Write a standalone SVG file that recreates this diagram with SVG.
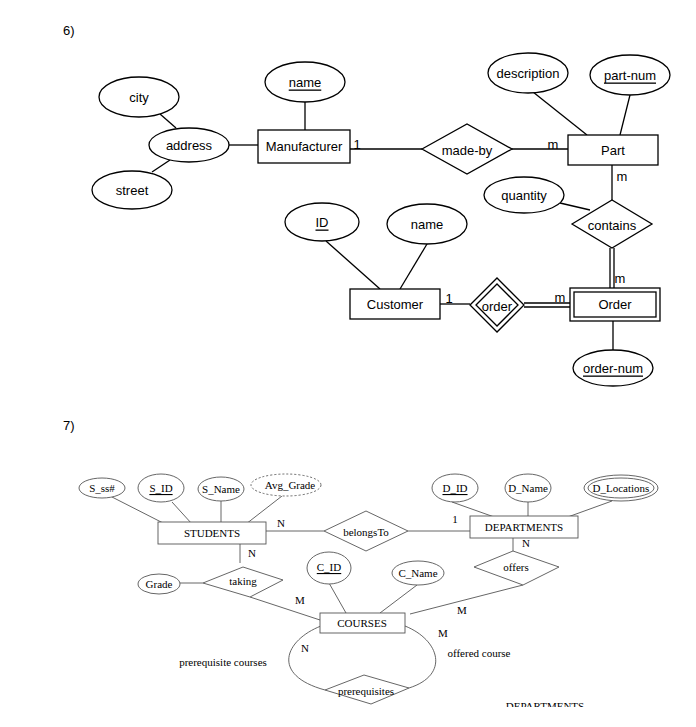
<svg xmlns="http://www.w3.org/2000/svg" width="696" height="727" viewBox="0 0 696 727">
<style>
.s{fill:#fff;stroke:#000;stroke-width:1.3}
.l{fill:none;stroke:#000;stroke-width:1.3}
.a{font-family:"Liberation Sans",Arial,sans-serif;font-size:13px;text-anchor:middle;dominant-baseline:central}
.t{font-family:"Liberation Serif","Times New Roman",serif;font-size:11px;text-anchor:middle;dominant-baseline:central}
.b{fill:#fff;stroke:#555;stroke-width:0.9}
.k{fill:none;stroke:#555;stroke-width:0.9}
</style>
<rect width="696" height="727" fill="#fff"/>
<text x="63" y="30" class="a" style="text-anchor:start">6)</text>
<text x="63" y="425" class="a" style="text-anchor:start">7)</text>
<g id="edges">
<line class="l" x1="160" y1="114" x2="176" y2="128"/>
<line class="l" x1="170" y1="160" x2="152" y2="172"/>
<line class="l" x1="229" y1="145" x2="258" y2="145"/>
<line class="l" x1="305" y1="102" x2="305" y2="130"/>
<line class="l" x1="350" y1="149" x2="422" y2="149"/>
<line class="l" x1="512" y1="149" x2="568" y2="149"/>
<line class="l" x1="533" y1="92" x2="587" y2="135"/>
<line class="l" x1="630" y1="95" x2="620" y2="135"/>
<line class="l" x1="612" y1="165" x2="612" y2="200"/>
<line class="l" x1="560" y1="203" x2="590" y2="210"/>
<line class="l" x1="610" y1="248" x2="610" y2="288"/>
<line class="l" x1="614" y1="248" x2="614" y2="288"/>
<line class="l" x1="326" y1="241" x2="380" y2="289"/>
<line class="l" x1="427" y1="244" x2="400" y2="289"/>
<line class="l" x1="440" y1="304" x2="470" y2="304"/>
<line class="l" x1="524" y1="303" x2="570" y2="303"/>
<line class="l" x1="524" y1="307" x2="570" y2="307"/>
<line class="l" x1="613" y1="320" x2="613" y2="350"/>
<line class="k" x1="112" y1="497" x2="165" y2="524"/>
<line class="k" x1="172" y1="502" x2="192" y2="524"/>
<line class="k" x1="221" y1="500" x2="221" y2="524"/>
<line class="k" x1="282" y1="496" x2="246" y2="524"/>
<line class="k" x1="266" y1="531" x2="324" y2="531"/>
<line class="k" x1="408" y1="531" x2="470" y2="531"/>
<line class="k" x1="452" y1="502" x2="497" y2="518"/>
<line class="k" x1="528" y1="502" x2="528" y2="518"/>
<line class="k" x1="612" y1="501" x2="565" y2="518"/>
<line class="k" x1="240" y1="544" x2="240" y2="563"/>
<line class="k" x1="180" y1="583" x2="203" y2="583"/>
<line class="k" x1="250" y1="597" x2="320" y2="620"/>
<line class="k" x1="329" y1="583" x2="346" y2="613"/>
<line class="k" x1="417" y1="585" x2="380" y2="613"/>
<line class="k" x1="513" y1="538" x2="513" y2="551"/>
<line class="k" x1="523" y1="585" x2="410" y2="614"/>
<path class="k" d="M321,626 C285,640 270,675 325,690"/>
<path class="k" d="M405,626 C440,640 450,675 409,688"/>
</g>
<g id="city"><ellipse class="s" cx="139" cy="97" rx="40" ry="20"/><text x="139" y="97" class="a">city</text></g>
<g id="address"><ellipse class="s" cx="189" cy="145" rx="40" ry="17"/><text x="189" y="145" class="a">address</text></g>
<g id="street"><ellipse class="s" cx="132" cy="190" rx="40" ry="19"/><text x="132" y="190" class="a">street</text></g>
<g id="mname"><ellipse class="s" cx="305" cy="82" rx="40" ry="20"/><text x="305" y="82" class="a" text-decoration="underline">name</text></g>
<g id="manufacturer"><rect class="s" x="258" y="130" width="92" height="33"/><text x="304" y="146" class="a">Manufacturer</text></g>
<g id="madeby"><polygon class="s" points="422,149 467,124 512,149 467,174"/><text x="467" y="150" class="a">made-by</text></g>
<g id="part"><rect class="s" x="568" y="135" width="90" height="30"/><text x="613" y="150" class="a">Part</text></g>
<g id="description"><ellipse class="s" cx="528" cy="73" rx="40" ry="20"/><text x="528" y="73" class="a">description</text></g>
<g id="partnum"><ellipse class="s" cx="630" cy="75" rx="40" ry="20"/><text x="630" y="75" class="a" text-decoration="underline">part-num</text></g>
<g id="quantity"><ellipse class="s" cx="524" cy="195" rx="40" ry="18"/><text x="524" y="195" class="a">quantity</text></g>
<g id="contains"><polygon class="s" points="572,224 612,200 652,224 612,248"/><text x="612" y="225" class="a">contains</text></g>
<g id="cid"><ellipse class="s" cx="322" cy="222" rx="37" ry="19"/><text x="322" y="222" class="a" text-decoration="underline">ID</text></g>
<g id="cname"><ellipse class="s" cx="427" cy="224" rx="40" ry="20"/><text x="427" y="224" class="a">name</text></g>
<g id="customer"><rect class="s" x="350" y="289" width="90" height="30"/><text x="395" y="304" class="a">Customer</text></g>
<g id="order"><polygon class="s" points="470,305 497,278 524,305 497,332"/><polygon class="s" points="476,305 497,284 518,305 497,326"/><text x="497" y="306" class="a">order</text></g>
<g id="Order"><rect class="s" x="570" y="288" width="90" height="33"/><rect class="s" x="574" y="292" width="82" height="25"/><text x="615" y="304" class="a">Order</text></g>
<g id="ordernum"><ellipse class="s" cx="613" cy="368" rx="40" ry="18"/><text x="613" y="368" class="a" text-decoration="underline">order-num</text></g>
<g id="labels6">
<text x="357" y="144" class="a">1</text><text x="553" y="144" class="a">m</text>
<text x="622" y="176" class="a">m</text><text x="620" y="278" class="a">m</text>
<text x="449" y="298" class="a">1</text><text x="560" y="297" class="a">m</text>
</g>
<g id="sss"><ellipse class="b" cx="102" cy="488" rx="23" ry="10"/><text x="102" y="488" class="t">S_ss#</text></g>
<g id="sid"><ellipse class="b" cx="161" cy="488" rx="23" ry="14"/><text x="161" y="488" class="t" text-decoration="underline">S_ID</text></g>
<g id="sname"><ellipse class="b" cx="221" cy="489" rx="23" ry="12"/><text x="221" y="489" class="t">S_Name</text></g>
<g id="avg"><ellipse class="b" cx="286" cy="485" rx="35" ry="11" stroke-dasharray="2,2"/><text x="290" y="485" class="t">Avg_Grade</text></g>
<g id="students"><rect class="b" x="158" y="522" width="108" height="22"/><text x="212" y="533" class="t">STUDENTS</text></g>
<g id="belongsto"><polygon class="b" points="324,531 366,511 408,531 366,551"/><text x="366" y="532" class="t">belongsTo</text></g>
<g id="departments"><rect class="b" x="470" y="516" width="108" height="22"/><text x="524" y="527" class="t">DEPARTMENTS</text></g>
<g id="did"><ellipse class="b" cx="455" cy="488" rx="23" ry="14"/><text x="455" y="488" class="t" text-decoration="underline">D_ID</text></g>
<g id="dname"><ellipse class="b" cx="528" cy="488" rx="23" ry="14"/><text x="528" y="488" class="t">D_Name</text></g>
<g id="dloc"><ellipse class="b" cx="621" cy="488" rx="37" ry="13"/><ellipse class="b" cx="621" cy="488" rx="33" ry="10"/><text x="621" y="488" class="t">D_Locations</text></g>
<g id="taking"><polygon class="b" points="203,583 243,567 283,580 250,597"/><text x="243" y="581" class="t">taking</text></g>
<g id="grade"><ellipse class="b" cx="159" cy="584" rx="21" ry="10"/><text x="159" y="584" class="t">Grade</text></g>
<g id="cid2"><ellipse class="b" cx="329" cy="568" rx="22" ry="16"/><text x="329" y="567" class="t" text-decoration="underline">C_ID</text></g>
<g id="cname2"><ellipse class="b" cx="418" cy="573" rx="26" ry="12"/><text x="418" y="573" class="t">C_Name</text></g>
<g id="offers"><polygon class="b" points="474,567 513,551 559,567 523,585"/><text x="516" y="567" class="t">offers</text></g>
<g id="courses"><rect class="b" x="320" y="613" width="85" height="20"/><text x="362" y="623" class="t">COURSES</text></g>
<g id="prereq"><polygon class="b" points="325,690 364,675 409,688 371,704"/><text x="366" y="691" class="t">prerequisites</text></g>
<g id="labels7">
<text x="281" y="523" class="t">N</text><text x="455" y="519" class="t">1</text>
<text x="252" y="553" class="t">N</text><text x="526" y="543" class="t">N</text>
<text x="300" y="600" class="t">M</text><text x="462" y="610" class="t">M</text>
<text x="443" y="633" class="t">M</text><text x="305" y="648" class="t">N</text>
<text x="223" y="662" class="t">prerequisite courses</text>
<text x="479" y="653" class="t">offered course</text>
<text x="545" y="706" class="t">DEPARTMENTS</text>
</g>
<rect x="0" y="707" width="696" height="20" fill="#fff"/>
</svg>
